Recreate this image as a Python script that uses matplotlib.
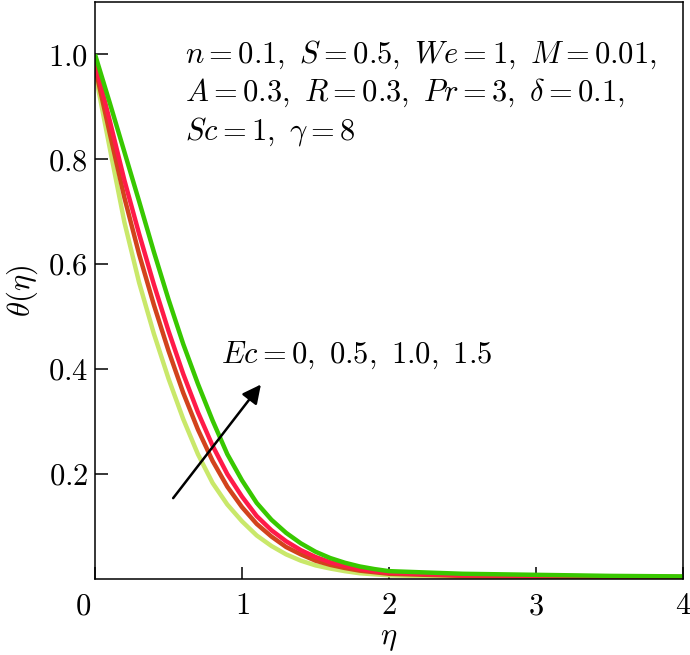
import matplotlib
matplotlib.use("Agg")
import matplotlib.pyplot as plt
import matplotlib.transforms as mtransforms

plt.rcParams['mathtext.fontset'] = 'cm'
plt.rcParams['font.family'] = 'serif'
plt.rcParams['font.serif'] = ['cmr10', 'DejaVu Serif']
plt.rcParams['axes.unicode_minus'] = False

# eta grid and theta(eta), one list per Ec value
eta = [0.0, 0.1, 0.2, 0.3, 0.4, 0.5, 0.6, 0.7, 0.8, 0.9, 1.0,
       1.1, 1.2, 1.3, 1.4, 1.5, 1.6, 1.7, 1.8, 1.9, 2.0,
       2.5, 3.0, 3.5, 4.0]
theta_ec0 = [0.966, 0.822, 0.680, 0.565, 0.468, 0.382, 0.305, 0.238, 0.183, 0.142, 0.110,
             0.083, 0.063, 0.047, 0.035, 0.026, 0.020, 0.015, 0.011, 0.009, 0.007,
             0.004, 0.002, 0.001, 0.000]
theta_ec05 = [0.976, 0.850, 0.727, 0.619, 0.523, 0.435, 0.355, 0.285, 0.225, 0.176, 0.137,
              0.105, 0.081, 0.061, 0.047, 0.035, 0.027, 0.021, 0.016, 0.013, 0.010,
              0.006, 0.005, 0.004, 0.003]
theta_ec10 = [0.985, 0.874, 0.760, 0.658, 0.562, 0.473, 0.391, 0.318, 0.254, 0.200, 0.157,
              0.120, 0.093, 0.072, 0.055, 0.042, 0.032, 0.025, 0.019, 0.015, 0.012,
              0.007, 0.006, 0.005, 0.004]
theta_ec15 = [1.000, 0.908, 0.814, 0.720, 0.624, 0.533, 0.448, 0.372, 0.302, 0.238, 0.188,
              0.145, 0.113, 0.088, 0.068, 0.052, 0.040, 0.031, 0.024, 0.019, 0.015,
              0.010, 0.008, 0.006, 0.005]

series = [theta_ec0, theta_ec05, theta_ec10, theta_ec15]
colors = ['#c9e86a', '#d2431c', '#ff1a48', '#38c800']

xticks = [0, 1, 2, 3, 4]
yticks = [0.2, 0.4, 0.6, 0.8, 1.0]

fig = plt.figure(figsize=(6.9, 6.55), dpi=100)
ax = fig.add_axes([0.1377, 0.116, 0.8522, 0.881])

for y, c in zip(series, colors):
    ax.plot(eta, y, color=c, lw=3.2, solid_capstyle='butt')

ax.set_xlim(0, 4)
ax.set_ylim(0, 1.1)
ax.set_xticks(xticks)
ax.set_xticklabels(['$%d$' % t for t in xticks])
ax.set_yticks(yticks)
ax.set_yticklabels(['$%.1f$' % t for t in yticks])
ax.tick_params(direction='in', length=9, width=1.1, labelsize=22)
ax.tick_params(axis='x', pad=10)
ax.tick_params(axis='y', pad=5)
for sp in ax.spines.values():
    sp.set_linewidth(1.1)

# the origin label sits left of the corner
lab0 = ax.get_xticklabels()[0]
lab0.set_ha('right')
lab0.set_transform(lab0.get_transform() + mtransforms.ScaledTranslation(-3 / 72, 0, fig.dpi_scale_trans))

ax.set_xlabel(r'$\eta$', fontsize=22, labelpad=4)
ax.set_ylabel(r'$\theta(\eta)$', fontsize=22, labelpad=6)

ax.text(0.153, 0.908, r'$n=0.1,\ S=0.5,\ We=1,\ M=0.01,$',
        transform=ax.transAxes, fontsize=22, va='center', ha='left')
ax.text(0.153, 0.842, r'$A=0.3,\ R=0.3,\ Pr=3,\ \delta=0.1,$',
        transform=ax.transAxes, fontsize=22, va='center', ha='left')
ax.text(0.153, 0.776, r'$Sc=1,\ \gamma=8$',
        transform=ax.transAxes, fontsize=22, va='center', ha='left')

ax.text(0.215, 0.388, r'$Ec=0,\ 0.5,\ 1.0,\ 1.5$',
        transform=ax.transAxes, fontsize=22, va='center', ha='left')
ax.annotate('', xy=(1.14, 0.375), xytext=(0.52, 0.15),
            arrowprops=dict(arrowstyle='-|>', lw=1.8, color='k', mutation_scale=28))

fig.savefig('out.png', dpi=100)
